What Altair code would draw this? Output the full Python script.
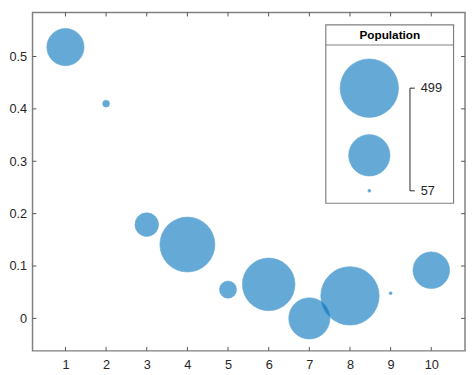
import altair as alt
import pandas as pd

# ---- data ----
xs = [1, 2, 3, 4, 5, 6, 7, 8, 9, 10]
ys = [0.518, 0.41, 0.179, 0.141, 0.055, 0.065, 0.0, 0.043, 0.048, 0.092]
pops = [236, 62, 128, 448, 94, 415, 276, 499, 57, 230]

x_ticks = [1, 2, 3, 4, 5, 6, 7, 8, 9, 10]
y_ticks = [0, 0.1, 0.2, 0.3, 0.4, 0.5]

legend_title = "Population"
legend_pops = [499, 278, 57]
legend_labels = ["499", "57"]

# ---- layout ----
W, H = 441, 345
X_DOM = [0.19, 10.83]
Y_DOM = [-0.062, 0.584]
BLUE = "#0072BD"
AX = "#262626"
FRAME = "#808080"

xs_scale = alt.Scale(domain=X_DOM, nice=False, zero=False)
ys_scale = alt.Scale(domain=Y_DOM, nice=False, zero=False)
size_scale = alt.Scale(domain=[57, 499], range=[9, 3550])

df = pd.DataFrame({"x": xs, "y": ys, "pop": pops})

bubbles = alt.Chart(df).mark_circle(
    color=BLUE, opacity=0.6, stroke=BLUE, strokeOpacity=0.6, strokeWidth=1
).encode(
    x=alt.X("x:Q", scale=xs_scale,
            axis=alt.Axis(values=x_ticks, title=None, grid=False, ticks=False,
                          tickSize=0, domain=False, labelPadding=8,
                          labelFontSize=13, labelColor=AX, labelFont="Liberation Sans")),
    y=alt.Y("y:Q", scale=ys_scale,
            axis=alt.Axis(values=y_ticks, title=None, grid=False, ticks=False,
                          tickSize=0, domain=False, labelPadding=6, format="~g",
                          labelFontSize=13, labelColor=AX, labelFont="Liberation Sans")),
    size=alt.Size("pop:Q", scale=size_scale, legend=None),
)

# inward ticks on all four sides
xt = pd.DataFrame({"x": x_ticks})
yt = pd.DataFrame({"y": y_ticks})
tick_style = dict(color="#555555", strokeWidth=1)
xb = alt.Chart(xt).mark_rule(**tick_style).encode(
    x=alt.X("x:Q", scale=xs_scale), y=alt.value(H), y2=alt.value(H - 4))
xtop = alt.Chart(xt).mark_rule(**tick_style).encode(
    x=alt.X("x:Q", scale=xs_scale), y=alt.value(0), y2=alt.value(4))
yl = alt.Chart(yt).mark_rule(**tick_style).encode(
    y=alt.Y("y:Q", scale=ys_scale), x=alt.value(0), x2=alt.value(4))
yr = alt.Chart(yt).mark_rule(**tick_style).encode(
    y=alt.Y("y:Q", scale=ys_scale), x=alt.value(W), x2=alt.value(W - 4))

# ---- bubble legend (drawn in data coordinates) ----
box_df = pd.DataFrame({"x": [7.405], "x2": [10.548], "y": [0.2198], "y2": [0.5604]})
box = alt.Chart(box_df).mark_rect(fill="white", stroke=FRAME, strokeWidth=1.2).encode(
    x=alt.X("x:Q", scale=xs_scale), x2="x2", y=alt.Y("y:Q", scale=ys_scale), y2="y2")
sep_df = pd.DataFrame({"x": [7.405], "x2": [10.548], "y": [0.522]})
sep = alt.Chart(sep_df).mark_rule(color=FRAME, strokeWidth=1.2).encode(
    x=alt.X("x:Q", scale=xs_scale), x2="x2", y=alt.Y("y:Q", scale=ys_scale))
title_df = pd.DataFrame({"x": [8.98], "y": [0.5405], "t": [legend_title]})
title = alt.Chart(title_df).mark_text(
    font="Liberation Sans", fontSize=12, fontWeight="bold", color="black",
    align="center", baseline="middle").encode(
    x=alt.X("x:Q", scale=xs_scale), y=alt.Y("y:Q", scale=ys_scale), text="t:N")

leg_df = pd.DataFrame({"x": [8.476] * 3, "y": [0.4396, 0.3114, 0.2436], "pop": legend_pops})
leg_circles = alt.Chart(leg_df).mark_circle(
    color=BLUE, opacity=0.6, stroke=BLUE, strokeOpacity=0.6, strokeWidth=1
).encode(
    x=alt.X("x:Q", scale=xs_scale), y=alt.Y("y:Q", scale=ys_scale),
    size=alt.Size("pop:Q", scale=size_scale, legend=None))

br_v = pd.DataFrame({"x": [9.476], "y": [0.2436], "y2": [0.4396]})
bracket_v = alt.Chart(br_v).mark_rule(color=AX, strokeWidth=1).encode(
    x=alt.X("x:Q", scale=xs_scale), y=alt.Y("y:Q", scale=ys_scale), y2="y2")
br_h = pd.DataFrame({"x": [9.476, 9.476], "x2": [9.595, 9.595], "y": [0.4396, 0.2436]})
bracket_h = alt.Chart(br_h).mark_rule(color=AX, strokeWidth=1).encode(
    x=alt.X("x:Q", scale=xs_scale), x2="x2", y=alt.Y("y:Q", scale=ys_scale))
lab_df = pd.DataFrame({"x": [9.74, 9.74], "y": [0.4396, 0.2436], "t": legend_labels})
labels = alt.Chart(lab_df).mark_text(
    font="Liberation Sans", fontSize=13, color=AX, align="left", baseline="middle").encode(
    x=alt.X("x:Q", scale=xs_scale), y=alt.Y("y:Q", scale=ys_scale), text="t:N")

chart = alt.layer(
    bubbles, xb, xtop, yl, yr, box, sep, title, leg_circles, bracket_v, bracket_h, labels
).properties(
    width=W, height=H, padding=0
).configure_view(
    stroke=FRAME, strokeWidth=1.5
)

chart.save("out.html", embed_options={"renderer": "svg", "actions": False})
